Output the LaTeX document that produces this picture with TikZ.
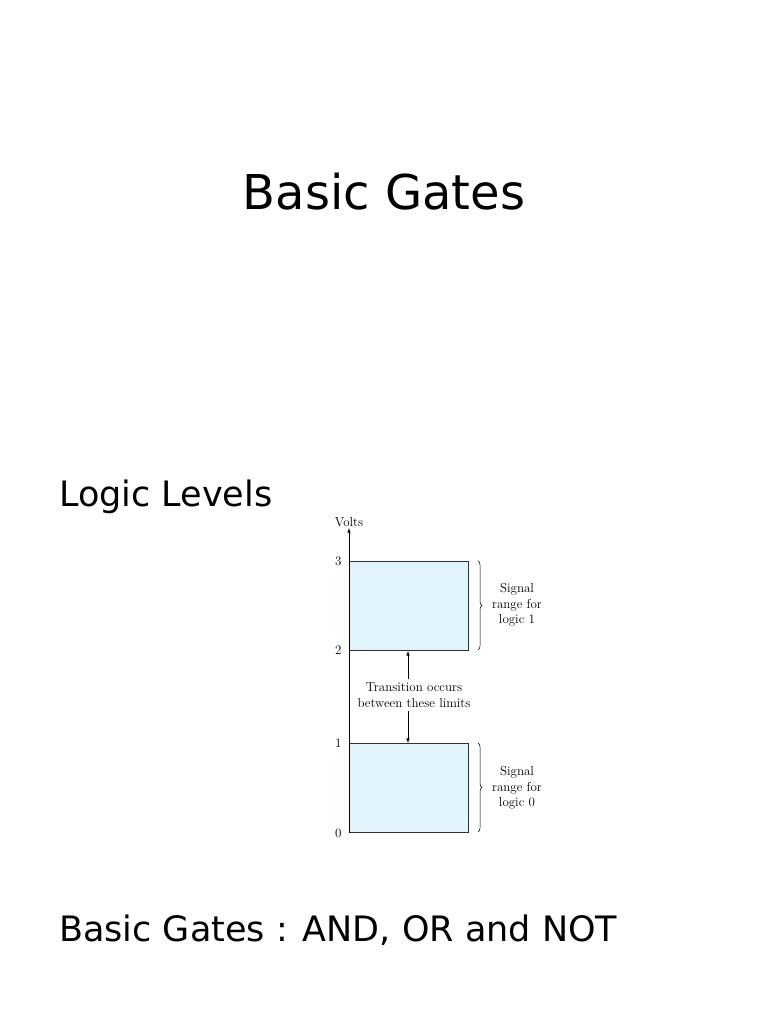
\documentclass[tikz,border=0pt]{standalone}
\usepackage{fontspec}
\setsansfont{DejaVu Sans}
\usetikzlibrary{decorations.pathreplacing}
\definecolor{levelfill}{HTML}{E1F3FC}
\begin{document}
\begin{tikzpicture}[x=1pt,y=-1pt, >=latex]
  \tikzset{band/.style={draw=black!80,fill=levelfill,line width=.6pt},
    small/.style={font=\fontsize{13}{15.5}\selectfont,align=center},
    heading/.style={font=\sffamily\fontsize{35}{42}\selectfont,anchor=west,inner sep=0pt}}
  \useasboundingbox (0,0) rectangle (768,1024);
  \node[font=\sffamily\fontsize{48}{56}\selectfont] (title) at (384,192) {Basic Gates};
  \node[heading] (levels) at (59,497) {Logic Levels};
  \node[heading] (gates) at (59,930) {Basic Gates : AND, OR and NOT};

  \draw[band] (349,561) rectangle (468,650);
  \draw[band] (349,743) rectangle (468,832);
  \coordinate (o) at (349,833);
  \coordinate (top) at (349,528);
  \draw[->,line width=.6pt] (o) -- (top);
  \node[small,above,inner sep=1pt] (volts) at (top) {Volts};
  \node[small,left] (v3) at (345,561) {3};
  \node[small,left] (v2) at (345,650) {2};
  \node[small,left] (v1) at (345,743) {1};
  \node[small,left] (v0) at (345,833) {0};

  \node[small] (trans) at (414,695) {Transition occurs\\between these limits};
  \coordinate (up) at (408,651);
  \coordinate (dn) at (408,743);
  \draw[->,line width=.6pt] (trans.north -| up) -- (up);
  \draw[->,line width=.6pt] (trans.south -| dn) -- (dn);

  \draw[decorate,decoration={brace,amplitude=4pt},line width=.5pt] (478,561) -- (478,650);
  \node[small] (hi) at (517,605) {Signal\\range for\\logic 1};
  \draw[decorate,decoration={brace,amplitude=4pt},line width=.5pt] (478,743) -- (478,832);
  \node[small] (lo) at (517,788) {Signal\\range for\\logic 0};
\end{tikzpicture}
\end{document}
